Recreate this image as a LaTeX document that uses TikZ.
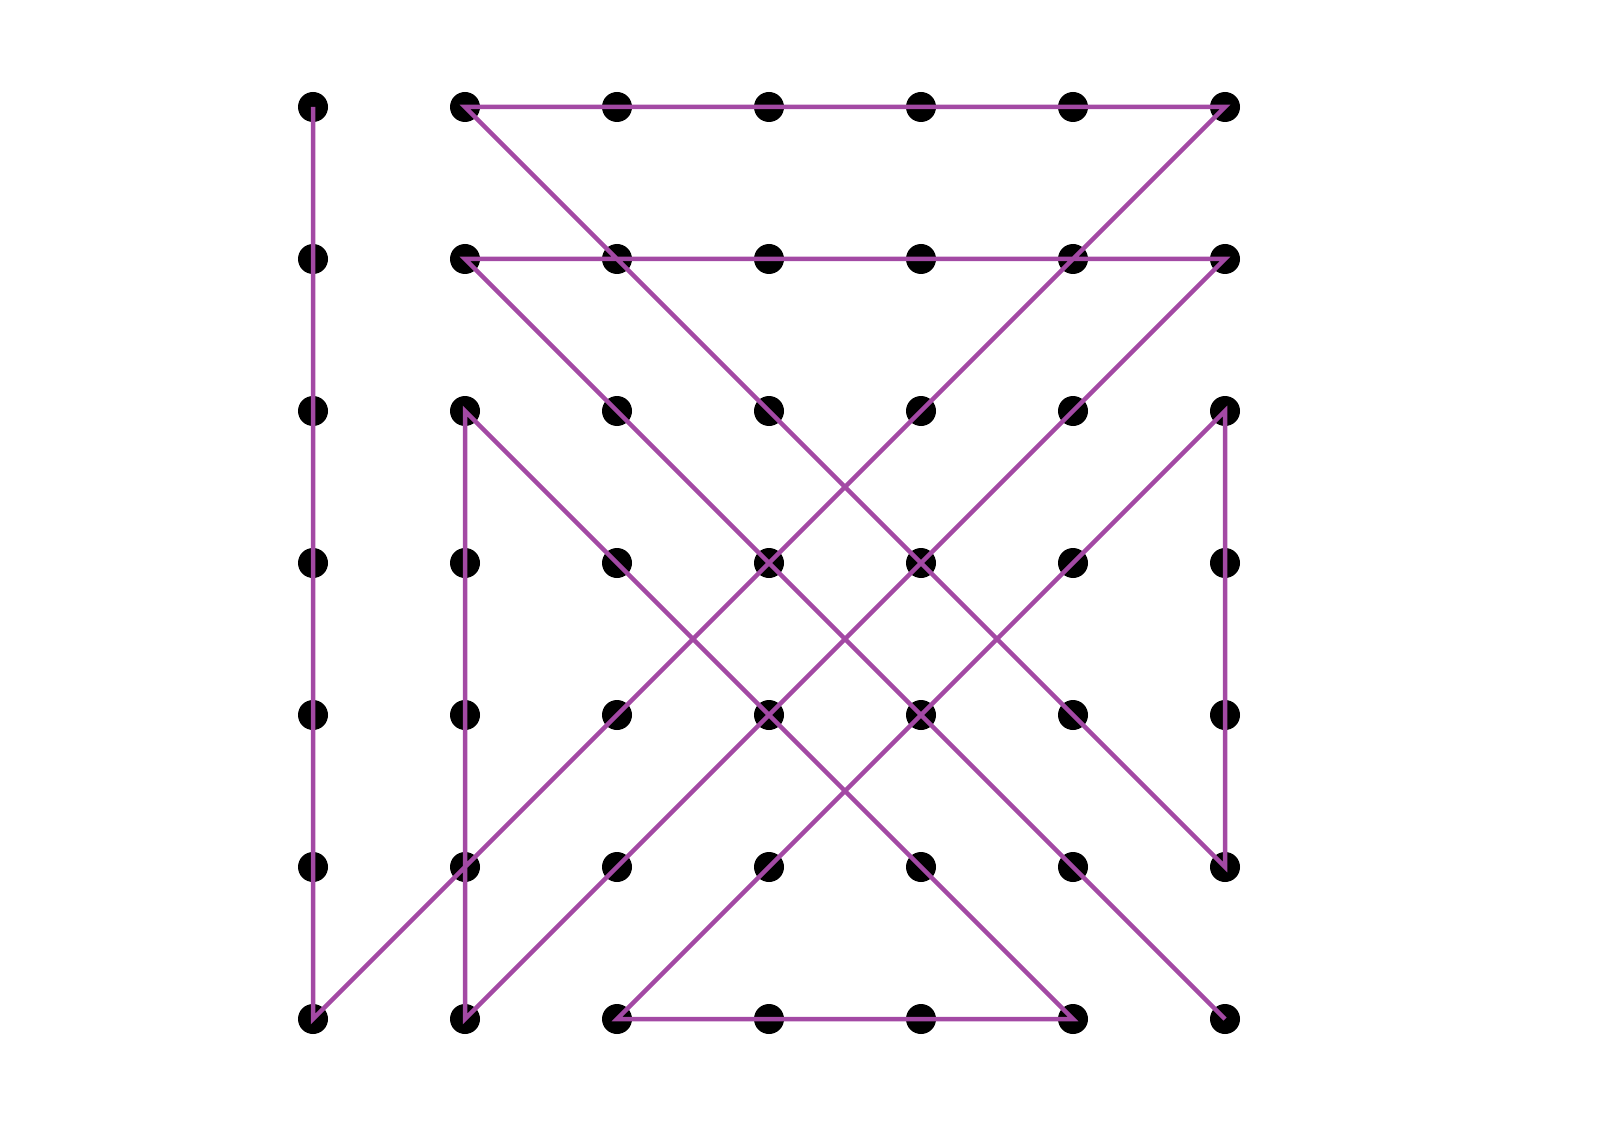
\documentclass[tikz,border=0pt]{standalone}
\definecolor{pathpurple}{RGB}{163,73,164}
\tikzset{
  gdot/.style={circle,fill=black,inner sep=0pt,minimum size=30pt},
  tour/.style={draw=pathpurple,line width=4.5pt,line join=miter}
}
\begin{document}
\begin{tikzpicture}[x=1pt,y=-1pt]
\useasboundingbox (0,0) rectangle (1600,1147);
\foreach \i in {0,...,6}{
  \foreach \j in {0,...,6}{
    \node[gdot] (d\i\j) at ({313+152*\i},{107+152*\j}) {};
  }
}
\draw[tour] (d00.center) -- (d06.center) -- (d60.center) -- (d10.center)
  -- (d65.center) -- (d62.center) -- (d26.center) -- (d56.center)
  -- (d12.center) -- (d16.center) -- (d61.center) -- (d11.center)
  -- (d66.center);
\end{tikzpicture}
\end{document}
